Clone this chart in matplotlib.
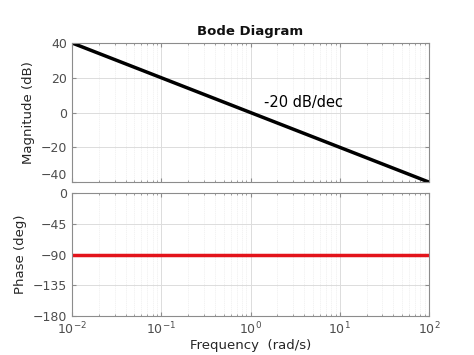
import matplotlib
matplotlib.use("Agg")
import matplotlib.pyplot as plt
from matplotlib.ticker import LogLocator, NullFormatter

# datos
frecuencia = [1e-2, 1e-1, 1e0, 1e1, 1e2]
magnitud_db = [40, 20, 0, -20, -40]
fase_deg = [-90, -90, -90, -90, -90]

ticks_mag = [-40, -20, 0, 20, 40]
ticks_fase = [-180, -135, -90, -45, 0]

plt.rcParams["font.family"] = "DejaVu Sans"

fig = plt.figure(figsize=(4.74, 3.55), dpi=100)
ax1 = fig.add_axes([0.152, 0.487, 0.753, 0.392])
ax2 = fig.add_axes([0.152, 0.110, 0.753, 0.346])

gris = "#8c8c8c"
texto = "#4d4d4d"

for ax in (ax1, ax2):
    ax.set_xscale("log")
    ax.set_xlim(1e-2, 1e2)
    ax.xaxis.set_minor_locator(LogLocator(base=10, subs=range(2, 10), numticks=20))
    ax.grid(True, which="major", color="#dcdcdc", lw=0.7)
    ax.grid(True, which="minor", color="#eeeeee", lw=0.5, ls=(0, (2, 1)))
    ax.set_axisbelow(True)
    for s in ax.spines.values():
        s.set_color(gris)
        s.set_linewidth(0.8)
    ax.tick_params(which="both", direction="in", top=True, right=True, colors=gris,
                   labelcolor=texto, labelsize=9)
    ax.tick_params(which="major", length=3)
    ax.tick_params(which="minor", length=1.5)

ax1.plot(frecuencia, magnitud_db, color="black", lw=2.5)
ax1.set_ylim(-40, 40)
ax1.set_yticks(ticks_mag)
ax1.xaxis.set_major_formatter(NullFormatter())
ax1.xaxis.set_minor_formatter(NullFormatter())
ax1.set_ylabel("Magnitude (dB)", fontsize=9.5, color="#262626")
ax1.set_title("Bode Diagram", fontsize=9.5, fontweight="bold", color="#111111", pad=6)
ax1.text(1.4, 6, "-20 dB/dec", fontsize=10.5, va="center", ha="left")
# la etiqueta -40 se sube un poco para no pisar el 0 de abajo
ax1.get_yticklabels()[0].set_va("bottom")

ax2.plot(frecuencia, fase_deg, color="#e3141b", lw=2.5)
ax2.set_ylim(-180, 0)
ax2.set_yticks(ticks_fase)
ax2.set_ylabel("Phase (deg)", fontsize=9.5, color="#262626")
ax2.set_xlabel("Frequency  (rad/s)", fontsize=9.5, color="#262626", labelpad=1)

fig.savefig("out.png", dpi=100)
